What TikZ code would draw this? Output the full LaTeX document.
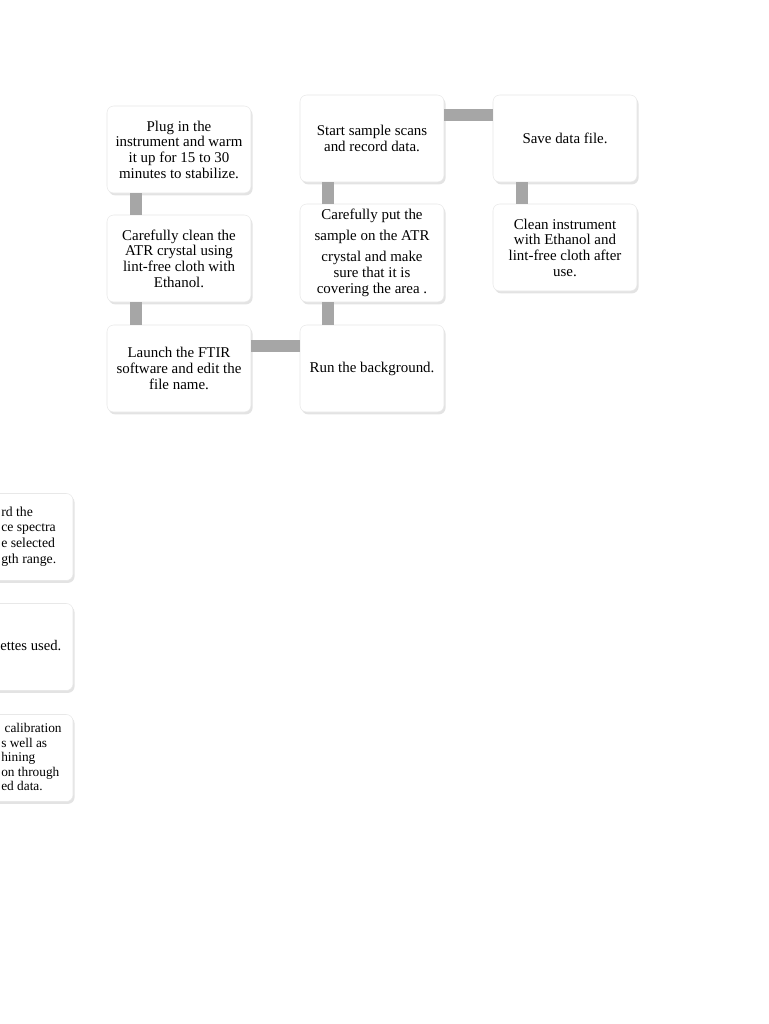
\documentclass[tikz,border=0pt]{standalone}
\usepackage{fontspec}
\setmainfont{Liberation Serif}
\usepackage{xcolor}
\definecolor{barGray}{RGB}{166,166,166}
\definecolor{edgeGray}{RGB}{232,232,232}
\usepackage{tikz}
\usetikzlibrary{shadows,calc}
\tikzstyle{stepbox}=[rectangle, rounded corners=5pt, fill=white, draw=edgeGray, minimum width=108pt, minimum height=65.25pt, inner sep=0pt, align=center, font=\fontsize{11.2}{11.75}\selectfont, drop shadow={shadow xshift=1.2pt, shadow yshift=-1.8pt, opacity=0.22}]
\tikzstyle{linkbar}=[draw=barGray, line width=9pt]
\tikzstyle{cuttext}=[anchor=west, inner sep=0pt, align=left, font=\fontsize{10}{11.75}\selectfont]

\begin{document}
\begin{tikzpicture}[x=0.75pt, y=-0.75pt]
    \fill[white] (0,0) rectangle (768,1024);
    \clip (0,0) rectangle (768,1024);

    % --- first column ---
    \node[stepbox] (plug) at (179, 149.5) {Plug in the\\instrument and warm\\it up for 15 to 30\\minutes to stabilize.};
    \node[stepbox] (clean) at (179, 258.5) {Carefully clean the\\ATR crystal using\\lint-free cloth with\\Ethanol.};
    \node[stepbox] (launch) at (179, 368.5) {Launch the FTIR\\software and edit the\\file name.};

    % --- second column ---
    \node[stepbox] (scans) at (372, 138.5) {Start sample scans\\and record data.};
    \node[stepbox, minimum height=73.5pt] (sample) at (372, 253) {Carefully put the\\[4pt]sample on the ATR\\[4pt]crystal and make\\sure that it is\\covering the area .};
    \node[stepbox] (backgr) at (372, 368.5) {Run the background.};

    % --- third column ---
    \node[stepbox] (save) at (565, 138.5) {Save data file.};
    \node[stepbox] (wipe) at (565, 247.5) {Clean instrument\\with Ethanol and\\lint-free cloth after\\use.};

    % --- links ---
    \draw[linkbar] ($(plug.south west)+(29.5,0)$) -- ($(clean.north west)+(29.5,0)$);
    \draw[linkbar] ($(clean.south west)+(29.5,0)$) -- ($(launch.north west)+(29.5,0)$);
    \draw[linkbar] ($(launch.north east)+(0,21)$) -- ($(backgr.north west)+(0,21)$);
    \draw[linkbar] ($(backgr.north west)+(28.5,0)$) -- ($(sample.south west)+(28.5,0)$);
    \draw[linkbar] ($(sample.north west)+(28.5,0)$) -- ($(scans.south west)+(28.5,0)$);
    \draw[linkbar] ($(scans.north east)+(0,20)$) -- ($(save.north west)+(0,20)$);
    \draw[linkbar] ($(save.south west)+(29,0)$) -- ($(wipe.north west)+(29,0)$);

    % --- cut-off boxes on the left ---
    \node[stepbox] (record) at (1, 537) {};
    \node[stepbox] (cuvette) at (1, 647) {};
    \node[stepbox] (calib) at (1, 758) {};
    \node[cuttext, font=\fontsize{10.3}{11.75}\selectfont] (recordtxt) at (1, 536.5) {rd the\\ce spectra\\e selected\\gth range.};
    \node[cuttext, font=\fontsize{11}{11.75}\selectfont] (cuvettetxt) at (0, 646) {ettes used.};
    \node[cuttext, font=\fontsize{10}{10.9}\selectfont] (calibtxt) at (1, 757) {\ calibration\\s well as\\hining\\on through\\ed data.};
\end{tikzpicture}
\end{document}
